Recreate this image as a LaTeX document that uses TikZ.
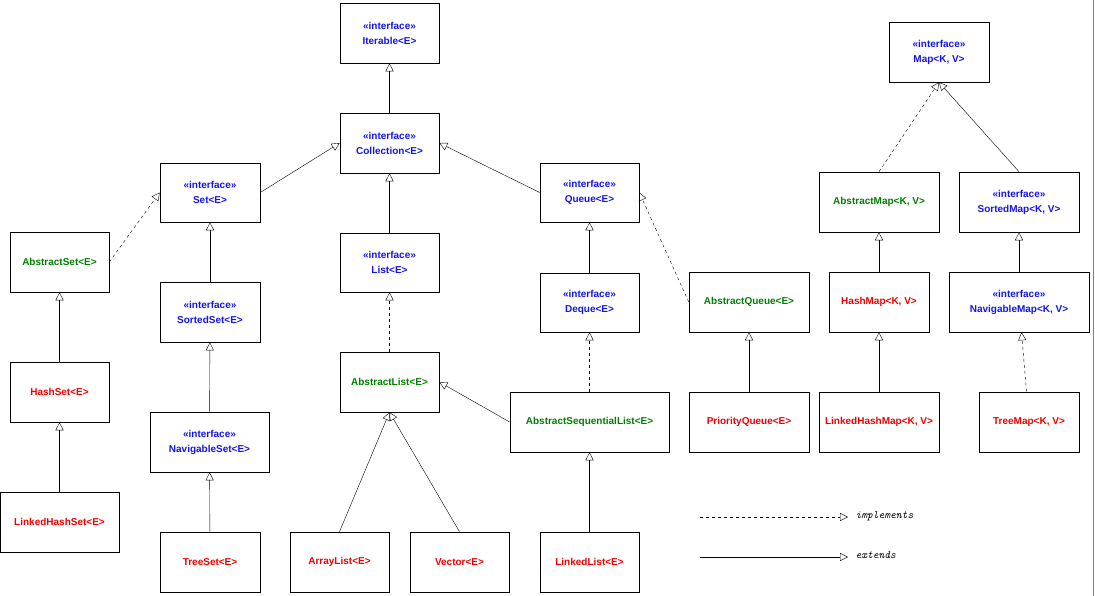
\documentclass[tikz,border=0pt]{standalone}
\usepackage{fontspec}
\setmainfont{Liberation Sans}
\usetikzlibrary{arrows.meta}
\definecolor{ib}{RGB}{20,20,240}
\definecolor{ag}{RGB}{0,128,0}
\definecolor{cr}{RGB}{240,0,0}
\tikzset{
 bx/.style={draw=black,semithick,fill=white,inner sep=0pt,align=center,font=\bfseries\fontsize{10}{15}\selectfont},
 ext/.style={-{Triangle[open,length=8pt,width=8pt]}},
 imp/.style={ext,dashed},
}
\newcommand{\bxx}[7]{\node[bx,text=#7,minimum width={(#4-#2)*1pt},minimum height={(#5-#3)*1pt}] (#1) at ({(#2+#4)/2},{-(#3+#5)/2}) {#6};}
\begin{document}
\begin{tikzpicture}[x=1pt,y=1pt]
\useasboundingbox (0,0) rectangle (1095,-596);
\fill[white] (0,0) rectangle (1095,-596);
\draw[gray] (1093,0) -- (1093,-596);
\def\itf{«interface»\\}
\bxx{iter}{340}{3}{439}{63}{\itf Iterable<E>}{ib}
\bxx{coll}{340}{113}{439}{173}{\itf Collection<E>}{ib}
\bxx{set}{160}{163}{260}{222}{\itf Set<E>}{ib}
\bxx{queue}{540}{163}{639}{222}{\itf Queue<E>}{ib}
\bxx{list}{340}{233}{439}{292}{\itf List<E>}{ib}
\bxx{aset}{10}{232}{109}{292}{AbstractSet<E>}{ag}
\bxx{sset}{160}{282}{260}{342}{\itf SortedSet<E>}{ib}
\bxx{deque}{540}{273}{639}{332}{\itf Deque<E>}{ib}
\bxx{aqueue}{689}{272}{809}{332}{AbstractQueue<E>}{ag}
\bxx{alist}{340}{352}{439}{412}{AbstractList<E>}{ag}
\bxx{hset}{10}{362}{109}{422}{HashSet<E>}{cr}
\bxx{nset}{150}{412}{269}{472}{\itf NavigableSet<E>}{ib}
\bxx{aslist}{510}{392}{669}{452}{AbstractSequentialList<E>}{ag}
\bxx{pq}{689}{392}{809}{452}{PriorityQueue<E>}{cr}
\bxx{lhset}{0}{492}{119}{552}{LinkedHashSet<E>}{cr}
\bxx{tset}{160}{532}{260}{592}{TreeSet<E>}{cr}
\bxx{alst}{290}{532}{389}{592}{ArrayList<E>}{cr}
\bxx{vec}{410}{532}{509}{592}{Vector<E>}{cr}
\bxx{llist}{540}{532}{639}{592}{LinkedList<E>}{cr}
\bxx{map}{889}{22}{989}{82}{\itf Map<K, V>}{ib}
\bxx{amap}{819}{172}{939}{232}{AbstractMap<K, V>}{ag}
\bxx{smap}{959}{172}{1079}{232}{\itf SortedMap<K, V>}{ib}
\bxx{hmap}{829}{272}{929}{332}{HashMap<K, V>}{cr}
\bxx{nmap}{949}{272}{1089}{332}{\itf NavigableMap<K, V>}{ib}
\bxx{lhmap}{819}{392}{939}{452}{LinkedHashMap<K, V>}{cr}
\bxx{tmap}{979}{392}{1079}{452}{TreeMap<K, V>}{cr}
\draw[ext] (coll) -- (iter);
\draw[ext] (set.east) -- (coll.west);
\draw[ext] (queue.west) -- (coll.east);
\draw[ext] (list) -- (coll);
\draw[imp] (aset.east) -- (set.west);
\draw[ext] (sset) -- (set);
\draw[ext] (nset) -- (sset);
\draw[ext] (tset) -- (nset);
\draw[ext] (hset) -- (aset);
\draw[ext] (lhset) -- (hset);
\draw[imp] (alist) -- (list);
\draw[ext] (aslist.west) -- (alist.east);
\draw[ext] (alst.north) -- (alist.south);
\draw[ext] (vec.north) -- (alist.south);
\draw[ext] (deque) -- (queue);
\draw[imp] (aslist) -- (deque);
\draw[ext] (llist) -- (aslist);
\draw[imp] (aqueue.west) -- (queue.east);
\draw[ext] (pq) -- (aqueue);
\draw[imp] (amap.north) -- (map.south);
\draw[ext] (smap.north) -- (map.south);
\draw[ext] (hmap) -- (amap);
\draw[ext] (lhmap) -- (hmap);
\draw[ext] (nmap) -- (smap);
\draw[imp] (tmap) -- (nmap);
\coordinate (i1) at (700,-517); \coordinate (i2) at (848,-517);
\coordinate (e1) at (700,-557); \coordinate (e2) at (848,-557);
\draw[imp] (i1) -- (i2);
\draw[ext] (e1) -- (e2);
\node[anchor=west,font=\ttfamily\itshape\fontsize{11}{13}\selectfont] (li) at (852,-516) {implements};
\node[anchor=west,font=\ttfamily\itshape\fontsize{11}{13}\selectfont] (le) at (852,-555) {extends};
\end{tikzpicture}
\end{document}
